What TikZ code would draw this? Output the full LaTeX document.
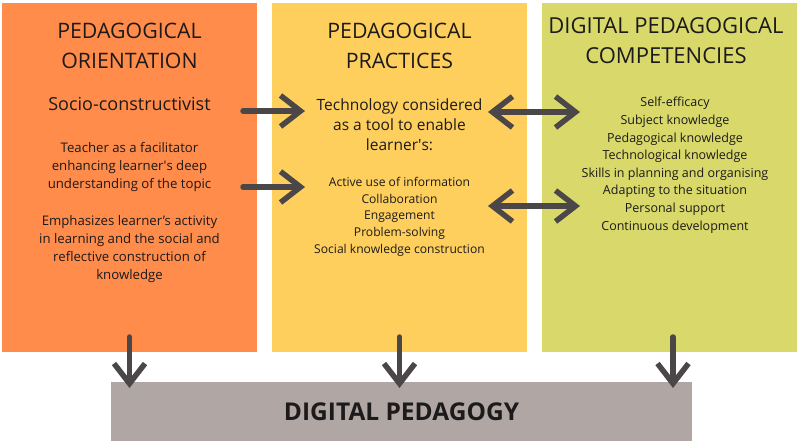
\documentclass[tikz,border=0pt]{standalone}
\usepackage{fontspec}
\setmainfont{Open Sans}
\usetikzlibrary{arrows.meta,positioning}

\definecolor{orient}{HTML}{FF8C4B}
\definecolor{practice}{HTML}{FECF5D}
\definecolor{compet}{HTML}{D8D96A}
\definecolor{pedagogy}{HTML}{B0A6A4}
\definecolor{arrowgray}{HTML}{4B4748}
\definecolor{ink}{HTML}{1C1A1A}

\begin{document}
\begin{tikzpicture}[x=1pt, y=-1pt, node distance=15pt,
	column/.style={minimum width=255pt, minimum height=349pt, inner sep=0pt, outer sep=0pt},
	heading/.style={align=center, text=ink, anchor=base, inner sep=0pt, font=\fontsize{21.3}{30}\selectfont},
	sub/.style={heading, font=\fontsize{18}{22}\selectfont},
	body/.style={heading, font=\fontsize{13.2}{17.8}\selectfont},
	lead/.style={heading, font=\fontsize{15.5}{20}\selectfont},
	list/.style={heading, font=\fontsize{12.1}{16.6}\selectfont},
	arr/.style={draw=arrowgray, line width=5.5pt, line cap=round, line join=round, -{Straight Barb[length=20pt,width=31pt]}},
	dblarr/.style={arr, {Straight Barb[length=20pt,width=31pt]}-{Straight Barb[length=20pt,width=31pt]}}]
	\useasboundingbox (0,0) rectangle (800,445);

	% Columns {orient, practice, compet} and the base bar
	\node [column, fill=orient] 	(orient) 	at (129.5,177.5) 	{};
	\node [column, fill=practice] 	(practice) 	[right=of orient] 	{};
	\node [column, fill=compet] 	(compet) 	[right=of practice] {};
	\node [fill=pedagogy, minimum width=581pt, minimum height=59pt, inner sep=0pt] (pedagogy) at (401.5,411.5)
		{\raisebox{-1.5pt}{\bfseries\fontsize{24.5}{24.5}\selectfont\color{ink}DIGITAL PEDAGOGY}};

	% Texts of first column (placed by their last baseline)
	\node [heading] (orienthead) at ([yshift=-65pt]orient.north)  {PEDAGOGICAL\\ORIENTATION};
	\node [sub] 	(socio) 	 at ([yshift=-107pt]orient.north) {Socio-constructivist};
	\node [body] 	(teacher) 	 at ([yshift=-185pt]orient.north) {Teacher as a facilitator\\enhancing learner\textquotesingle s deep\\understanding of the topic};
	\node [body] 	(emphasis) 	 at ([yshift=-276pt]orient.north) {Emphasizes learner’s activity\\in learning and the social and\\reflective construction of\\knowledge};

	% Texts of second column
	\node [heading] (practhead)	 at ([yshift=-65pt]practice.north)  {PEDAGOGICAL\\PRACTICES};
	\node [lead] 	(tech) 		 at ([yshift=-147pt]practice.north) {Technology considered\\as a tool to enable\\learner\textquotesingle s:};
	\node [list] 	(uses) 		 at ([yshift=-250pt]practice.north) {Active use of information\\Collaboration\\Engagement\\Problem-solving\\Social knowledge construction};

	% Texts of third column
	\node [heading, font=\fontsize{22}{30}\selectfont] (comphead) at ([shift={(-3.5pt,-60pt)}]compet.north) {DIGITAL PEDAGOGICAL\\COMPETENCIES};
	\node [list, font=\fontsize{12.5}{17.6}\selectfont] (skills) at ([shift={(5.5pt,-227pt)}]compet.north)
		{Self-efficacy\\Subject knowledge\\Pedagogical knowledge\\Technological knowledge\\Skills in planning and organising\\Adapting to the situation\\Personal support\\Continuous development};

	% Paths between columns
	\draw [arr] 	([shift={(-14pt,-108pt)}]orient.north east) -- ([shift={(33pt,-108pt)}]practice.north west);
	\draw [arr] 	([shift={(-14pt,-184pt)}]orient.north east) -- ([shift={(33pt,-184pt)}]practice.north west);
	\draw [dblarr] 	([shift={(-39pt,-109pt)}]practice.north east) -- ([shift={(38pt,-109pt)}]compet.north west);
	\draw [dblarr] 	([shift={(-39pt,-203pt)}]practice.north east) -- ([shift={(38pt,-203pt)}]compet.north west);

	% Paths down to the base bar
	\draw [arr] 	([yshift=15pt]orient.south) 			 -- ([yshift=-36pt]orient.south);
	\draw [arr] 	([yshift=15pt]practice.south) 			 -- ([yshift=-36pt]practice.south);
	\draw [arr] 	([shift={(3.5pt,15pt)}]compet.south) 	 -- ([shift={(3.5pt,-36pt)}]compet.south);
\end{tikzpicture}
\end{document}
